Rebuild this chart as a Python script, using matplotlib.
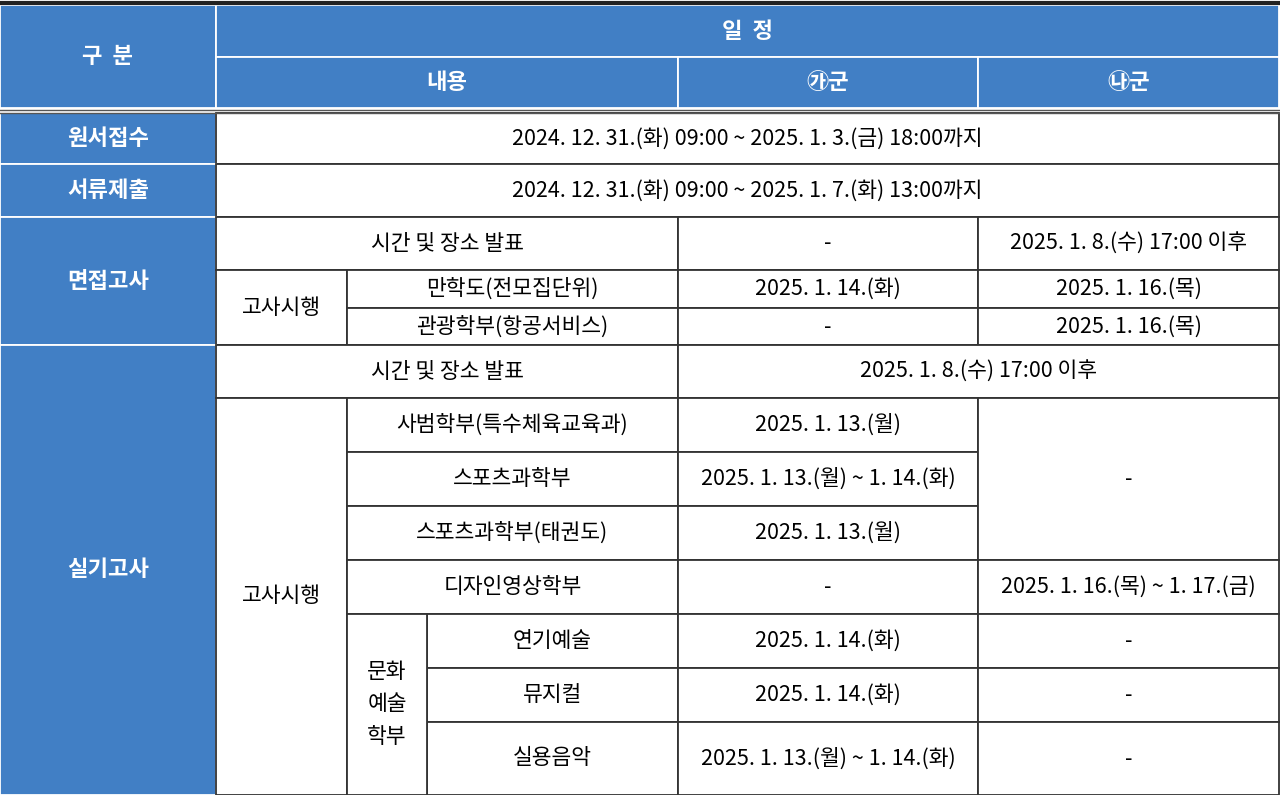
import matplotlib.pyplot as plt
from matplotlib.patches import Rectangle

plt.rcParams['font.family'] = 'Noto Sans CJK KR'

BLUE = '#417fc5'
LINE = '#333333'

# table texts
header_top = ['구  분', '일  정']
header_sub = ['내용', '㉮군', '㉯군']
side_labels = ['원서접수', '서류제출', '면접고사', '실기고사']
apply_period = '2024. 12. 31.(화) 09:00 ~ 2025. 1. 3.(금) 18:00까지'
docs_period = '2024. 12. 31.(화) 09:00 ~ 2025. 1. 7.(화) 13:00까지'
announce = '시간 및 장소 발표'
exam_run = '고사시행'
interview_items = ['만학도(전모집단위)', '관광학부(항공서비스)']
interview_ga = ['-', '2025. 1. 14.(화)', '-']
interview_na = ['2025. 1. 8.(수) 17:00 이후', '2025. 1. 16.(목)', '2025. 1. 16.(목)']
practical_announce = '2025. 1. 8.(수) 17:00 이후'
practical_items = ['사범학부(특수체육교육과)', '스포츠과학부', '스포츠과학부(태권도)',
                   '디자인영상학부', '연기예술', '뮤지컬', '실용음악']
practical_ga = ['2025. 1. 13.(월)', '2025. 1. 13.(월) ~ 1. 14.(화)', '2025. 1. 13.(월)',
                '-', '2025. 1. 14.(화)', '2025. 1. 14.(화)', '2025. 1. 13.(월) ~ 1. 14.(화)']
practical_na = ['-', '2025. 1. 16.(목) ~ 1. 17.(금)', '-', '-', '-']
arts_group = '문화\n예술\n학부'

# layout (pixels)
X = [0, 216, 347, 427, 678, 978, 1279]
fig = plt.figure(figsize=(12.8, 7.95), dpi=100)
ax = fig.add_axes([0, 0, 1, 1])
ax.set_xlim(0, 1280)
ax.set_ylim(795, 0)
ax.axis('off')


def cell(x0, x1, y0, y1, text='', fill='white', color='black', bold=False, size=15.5, ls=1.3):
    ax.add_patch(Rectangle((x0, y0), x1 - x0, y1 - y0, facecolor=fill,
                           edgecolor=LINE if fill == 'white' else 'white', lw=ls))
    if text:
        ax.text((x0 + x1) / 2, (y0 + y1) / 2, text, ha='center', va='center',
                color=color, fontsize=size, fontweight='bold' if bold else 'normal',
                linespacing=1.6)


def hcell(x0, x1, y0, y1, text):
    cell(x0, x1, y0, y1, text, fill=BLUE, color='white', bold=True, size=16)


# header
ax.plot([0, 1280], [3, 3], color='#222222', lw=3)
hcell(X[0], X[1], 5, 108, header_top[0])
hcell(X[1], X[6], 5, 57, header_top[1])
hcell(X[1], X[4], 57, 108, header_sub[0])
hcell(X[4], X[5], 57, 108, header_sub[1])
hcell(X[5], X[6], 57, 108, header_sub[2])
ax.plot([0, 1280], [110, 110], color='#555555', lw=1)
ax.plot([0, 1280], [113, 113], color='#555555', lw=1)

# 원서접수 / 서류제출
hcell(X[0], X[1], 113, 164, side_labels[0])
cell(X[1], X[6], 113, 164, apply_period)
hcell(X[0], X[1], 164, 217, side_labels[1])
cell(X[1], X[6], 164, 217, docs_period)

# 면접고사
hcell(X[0], X[1], 217, 345, side_labels[2])
cell(X[1], X[4], 217, 270, announce)
cell(X[1], X[2], 270, 345, exam_run)
iy = [217, 270, 308, 345]
for i in range(3):
    if i > 0:
        cell(X[2], X[4], iy[i], iy[i + 1], interview_items[i - 1])
    cell(X[4], X[5], iy[i], iy[i + 1], interview_ga[i])
    cell(X[5], X[6], iy[i], iy[i + 1], interview_na[i])

# 실기고사
hcell(X[0], X[1], 345, 795, side_labels[3])
cell(X[1], X[4], 345, 398, announce)
cell(X[4], X[6], 345, 398, practical_announce)
cell(X[1], X[2], 398, 795, exam_run)
py = [398, 452, 506, 560, 614, 668, 722, 795]
for i, item in enumerate(practical_items):
    if i < 4:
        cell(X[2], X[4], py[i], py[i + 1], item)
    else:
        cell(X[3], X[4], py[i], py[i + 1], item)
    cell(X[4], X[5], py[i], py[i + 1], practical_ga[i])
cell(X[2], X[3], 614, 795, arts_group)
cell(X[5], X[6], 398, 560, practical_na[0])
for j, y0 in enumerate(py[3:7]):
    cell(X[5], X[6], y0, py[3 + j + 1], practical_na[j + 1])

fig.savefig('out.png', dpi=100)
